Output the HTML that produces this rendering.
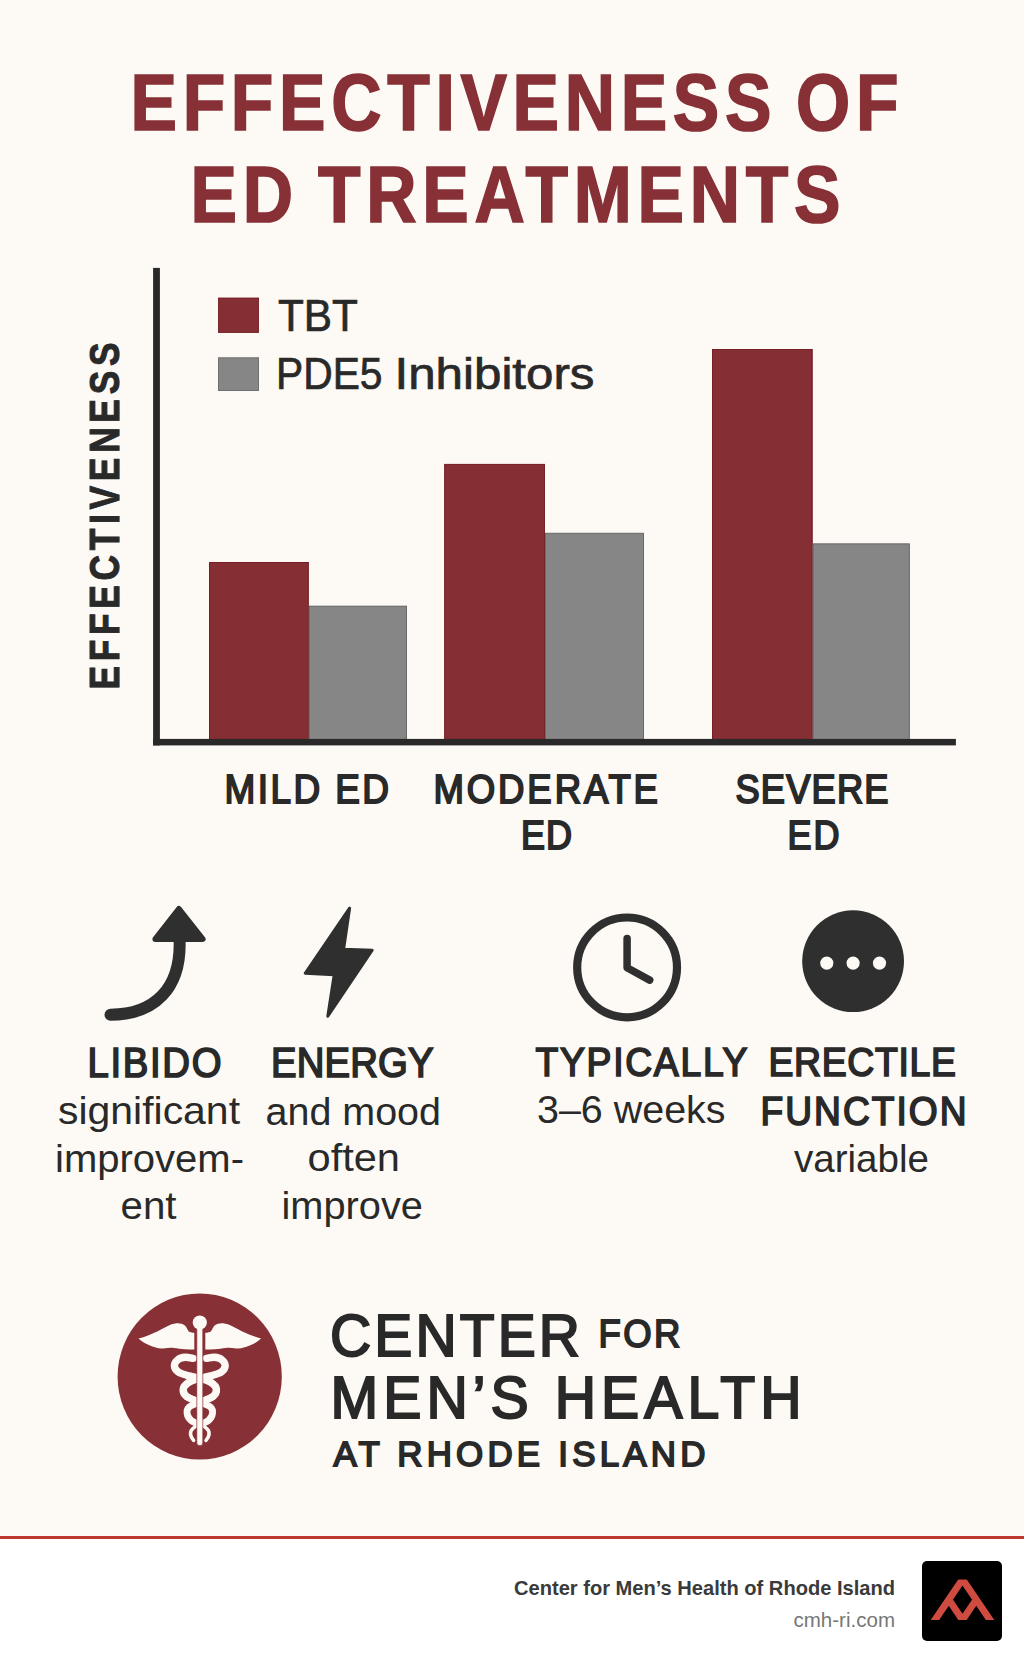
<!DOCTYPE html>
<html lang="en">
<head>
<meta charset="utf-8">
<title>Effectiveness of ED Treatments</title>
<style>
  html, body { margin: 0; padding: 0; background: #ffffff; }
  body { width: 1024px; height: 1666px; overflow: hidden; font-family: "Liberation Sans", sans-serif; }
  svg { display: block; }
  text { font-family: "Liberation Sans", sans-serif; }
</style>
</head>
<body>
<svg width="1024" height="1666" viewBox="0 0 1024 1666">
  <!-- backgrounds -->
  <rect x="0" y="0" width="1024" height="1536" fill="#fdfaf5"/>
  <rect x="0" y="1536" width="1024" height="3" fill="#c0392f"/>
  <rect x="0" y="1539" width="1024" height="127" fill="#ffffff"/>

  <!-- chart -->
  <g id="chart">
    <rect x="209.55" y="562.45" width="98.80" height="178.50" fill="#852e34" stroke="#6e1319" stroke-width="0.9"/>
    <rect x="309.25" y="606.15" width="97.30" height="134.80" fill="#868686" stroke="#5e5e5e" stroke-width="0.9"/>
    <rect x="444.65" y="464.35" width="99.80" height="276.60" fill="#852e34" stroke="#6e1319" stroke-width="0.9"/>
    <rect x="545.35" y="533.25" width="98.10" height="207.70" fill="#868686" stroke="#5e5e5e" stroke-width="0.9"/>
    <rect x="712.45" y="349.55" width="99.80" height="391.40" fill="#852e34" stroke="#6e1319" stroke-width="0.9"/>
    <rect x="813.15" y="543.85" width="96.20" height="197.10" fill="#868686" stroke="#5e5e5e" stroke-width="0.9"/>
    <!-- axes -->
    <rect x="153.1" y="267.9" width="6.8" height="477.5" fill="#292929"/>
    <rect x="153.1" y="738.9" width="802.8" height="6.5" fill="#292929"/>
    <!-- legend -->
    <rect x="218.4" y="298" width="40.2" height="34.5" fill="#852e34" stroke="#6e1319" stroke-width="0.8"/>
    <rect x="218.4" y="357.8" width="40.2" height="32.8" fill="#868686" stroke="#5e5e5e" stroke-width="0.8"/>
  </g>

  <!-- icons -->
  <g id="icons" fill="#2f2f2f">
    <!-- curved arrow -->
    <path d="M110.5 1014.7 C155 1014.7 181 988 179.6 941" fill="none" stroke="#2f2f2f" stroke-width="12" stroke-linecap="round"/>
    <path d="M178.9 909 L202.6 939 L155.4 939 Z" stroke="#2f2f2f" stroke-width="6" stroke-linejoin="round"/>
    <!-- bolt -->
    <path d="M349.6 908.2 L343.6 949.2 L372.2 950.2 L327.8 1016.2 L334.2 974.7 L305.2 973.3 Z" stroke="#2f2f2f" stroke-width="3" stroke-linejoin="round"/>
    <!-- clock -->
    <circle cx="627.1" cy="967.4" r="49.9" fill="none" stroke="#2f2f2f" stroke-width="8.2"/>
    <path d="M627.1 938.4 L627.1 967.8 L649.7 980.1" fill="none" stroke="#2f2f2f" stroke-width="7.5" stroke-linecap="round" stroke-linejoin="round"/>
    <!-- dots -->
    <circle cx="853.1" cy="961.2" r="50.9"/>
    <circle cx="826.8" cy="963.1" r="6.6" fill="#fdfaf5"/>
    <circle cx="853.1" cy="963.1" r="6.6" fill="#fdfaf5"/>
    <circle cx="879.5" cy="963.1" r="6.6" fill="#fdfaf5"/>
  </g>

  <!-- logo -->
  <g id="logo">
    <ellipse cx="199.7" cy="1376.5" rx="82.1" ry="83.1" fill="#873036"/>
    <g id="caduceus">
      <g fill="#fdfaf5" stroke="none">
        <path d="M194.3 1332.8 C191.5 1332.5 190 1332 188.8 1331.4 C187 1329 186.5 1327 184.7 1325.3 C183 1324 180.5 1323.2 177.9 1323.2 C175.5 1323.2 173 1323.8 171 1324.6 C166 1326.8 161.5 1329.3 157.3 1331.4 C151 1334.3 145 1336.8 138.5 1338.6 C142 1341.8 146 1344.2 150.5 1345.8 C154 1347.2 157.5 1348.3 161.4 1348.5 C165.5 1348.8 170 1347.6 173.8 1347.9 C177.5 1348.2 181 1349 184.7 1349.2 C188 1349.5 191 1349.5 194.3 1349.5 Z"/>
        <path d="M205.3 1332.8 C208.1 1332.5 209.6 1332.0 210.8 1331.4 C212.6 1329.0 213.1 1327.0 214.9 1325.3 C216.6 1324.0 219.1 1323.2 221.7 1323.2 C224.1 1323.2 226.6 1323.8 228.6 1324.6 C233.6 1326.8 238.1 1329.3 242.3 1331.4 C248.6 1334.3 254.6 1336.8 261.1 1338.6 C257.6 1341.8 253.6 1344.2 249.1 1345.8 C245.6 1347.2 242.1 1348.3 238.2 1348.5 C234.1 1348.8 229.6 1347.6 225.8 1347.9 C222.1 1348.2 218.6 1349.0 214.9 1349.2 C211.6 1349.5 208.6 1349.5 205.3 1349.5 Z"/>
      </g>
      <g fill="none" stroke="#fdfaf5" stroke-linecap="round" stroke-linejoin="round">
      <path d="M193.0 1358.3 C191.7 1358.1 187.6 1357.2 185.2 1357.3 C182.7 1357.5 180.1 1357.9 178.3 1359.3 C176.5 1360.7 174.4 1363.5 174.4 1365.6 C174.4 1367.7 175.9 1370.3 178.3 1372.0 C180.8 1373.7 185.5 1374.8 189.1 1375.9 C192.6 1376.9 196.2 1377.3 199.8 1378.3 C203.4 1379.4 207.8 1380.4 210.5 1382.2 C213.3 1384.0 216.1 1386.6 216.4 1389.1 C216.7 1391.5 215.3 1394.7 212.5 1396.9 C209.7 1399.1 201.9 1401.4 199.8 1402.2" stroke-width="7.4"/>
      <path d="M212.5 1396.9 C210.4 1397.8 203.7 1400.5 199.8 1402.2 C195.9 1404.0 191.2 1405.3 189.1 1407.1 C186.9 1409.0 186.8 1411.3 187.1 1413.5 C187.4 1415.7 188.9 1418.5 191.0 1420.3 C193.1 1422.1 198.3 1423.6 199.8 1424.2" stroke-width="6.8"/>
      <path d="M206.6 1358.3 C207.9 1358.1 212.0 1357.2 214.4 1357.3 C216.9 1357.5 219.5 1357.9 221.3 1359.3 C223.1 1360.7 225.2 1363.5 225.2 1365.6 C225.2 1367.7 223.7 1370.3 221.3 1372.0 C218.8 1373.7 214.1 1374.8 210.5 1375.9 C207.0 1376.9 203.4 1377.3 199.8 1378.3 C196.2 1379.4 191.8 1380.4 189.1 1382.2 C186.3 1384.0 183.5 1386.6 183.2 1389.1 C182.9 1391.5 184.3 1394.7 187.1 1396.9 C189.9 1399.1 197.7 1401.4 199.8 1402.2" stroke-width="7.4"/>
      <path d="M187.1 1396.9 C189.2 1397.8 195.9 1400.5 199.8 1402.2 C203.7 1404.0 208.4 1405.3 210.5 1407.1 C212.7 1409.0 212.8 1411.3 212.5 1413.5 C212.2 1415.7 210.7 1418.5 208.6 1420.3 C206.5 1422.1 201.3 1423.6 199.8 1424.2" stroke-width="6.8"/>
      <path d="M196 1422.6 C201 1424.6 206 1426.6 208.2 1430.2 C210 1433.4 208.6 1437.4 206 1440.4" stroke-width="3.6"/>
      <path d="M203.6 1422.6 C198.6 1424.6 193.6 1426.6 191.4 1430.2 C189.6 1433.4 191 1437.4 193.6 1440.4" stroke-width="3.6"/>
      </g>
      <rect x="196.8" y="1322" width="6" height="123.5" rx="2.6" fill="#fdfaf5" stroke="#852e34" stroke-width="0.7"/>
      <circle cx="199.8" cy="1322.6" r="7.1" fill="#fdfaf5"/>
    </g>
    </g>

  <!-- footer logo -->
  <g id="footer">
    <rect x="922" y="1561" width="80" height="80" rx="5" fill="#000000"/>
    <clipPath id="fl"><rect x="922" y="1579.4" width="80" height="40.5"/></clipPath>
    <g fill="none" stroke="#cf4b40" stroke-width="7" stroke-linejoin="miter" stroke-miterlimit="10" clip-path="url(#fl)">
      <path d="M931.6 1624.9 L962.5 1579.4 L993.4 1624.9"/>
      <path d="M948.1 1598.6 L962.5 1619.9 L976.9 1598.6"/>
    </g>
  </g>

  <!-- all text -->
  <g id="texts">
    <text transform="translate(130.50 129.85) scale(0.88 1)" font-size="79.10" font-weight="700" word-spacing="-6.82" fill="#873036" stroke="#873036" stroke-width="1.70" stroke-linejoin="miter" textLength="872.73" lengthAdjust="spacing">EFFECTIVENESS OF</text>
    <text transform="translate(190.50 221.85) scale(0.88 1)" font-size="79.10" font-weight="700" word-spacing="-6.82" fill="#873036" stroke="#873036" stroke-width="1.70" stroke-linejoin="miter" textLength="738.64" lengthAdjust="spacing">ED TREATMENTS</text>
    <text transform="translate(278.00 330.75)" font-size="45.00" fill="#292929" stroke="#292929" stroke-width="0.70" stroke-linejoin="miter" textLength="80.00" lengthAdjust="spacingAndGlyphs">TBT</text>
    <text y="388.85" font-size="44.00" fill="#292929" stroke="#292929" stroke-width="0.70" stroke-linejoin="miter"><tspan x="276.00" textLength="106.50" lengthAdjust="spacingAndGlyphs">PDE5</tspan> <tspan x="394.50" textLength="200.00" lengthAdjust="spacingAndGlyphs">Inhibitors</tspan></text>
    <text transform="translate(119.30 689.50) rotate(-90) scale(0.83 1)" font-size="42.60" font-weight="700" fill="#292929" stroke="#292929" stroke-width="1.00" stroke-linejoin="miter" textLength="418.07" lengthAdjust="spacing">EFFECTIVENESS</text>
    <text transform="translate(224.50 802.95) scale(0.9 1)" font-size="41.10" fill="#292929" stroke="#292929" stroke-width="1.90" stroke-linejoin="miter" textLength="182.78" lengthAdjust="spacing">MILD ED</text>
    <text transform="translate(433.50 802.65) scale(0.9 1)" font-size="40.60" fill="#292929" stroke="#292929" stroke-width="1.90" stroke-linejoin="miter" textLength="249.44" lengthAdjust="spacing">MODERATE</text>
    <text transform="translate(521.00 849.35) scale(0.9 1)" font-size="40.00" fill="#292929" stroke="#292929" stroke-width="1.90" stroke-linejoin="miter" textLength="56.67" lengthAdjust="spacing">ED</text>
    <text transform="translate(735.50 802.85) scale(0.9 1)" font-size="40.30" fill="#292929" stroke="#292929" stroke-width="1.90" stroke-linejoin="miter" textLength="170.00" lengthAdjust="spacing">SEVERE</text>
    <text transform="translate(787.50 849.25) scale(0.9 1)" font-size="40.00" fill="#292929" stroke="#292929" stroke-width="1.90" stroke-linejoin="miter" textLength="57.78" lengthAdjust="spacing">ED</text>
    <text transform="translate(87.50 1076.65) scale(0.92 1)" font-size="41.70" fill="#292929" stroke="#292929" stroke-width="1.70" stroke-linejoin="miter" textLength="145.65" lengthAdjust="spacing">LIBIDO</text>
    <text transform="translate(271.00 1076.65) scale(0.92 1)" font-size="41.70" fill="#292929" stroke="#292929" stroke-width="1.70" stroke-linejoin="miter" textLength="176.63" lengthAdjust="spacing">ENERGY</text>
    <text transform="translate(535.50 1076.35) scale(0.92 1)" font-size="40.60" fill="#292929" stroke="#292929" stroke-width="1.70" stroke-linejoin="miter" textLength="230.43" lengthAdjust="spacing">TYPICALLY</text>
    <text transform="translate(768.50 1076.35) scale(0.92 1)" font-size="40.70" fill="#292929" stroke="#292929" stroke-width="1.70" stroke-linejoin="miter" textLength="203.80" lengthAdjust="spacing">ERECTILE</text>
    <text transform="translate(760.50 1124.85) scale(0.92 1)" font-size="40.40" fill="#292929" stroke="#292929" stroke-width="1.70" stroke-linejoin="miter" textLength="223.91" lengthAdjust="spacing">FUNCTION</text>
    <text transform="translate(58.00 1124.10)" font-size="38.20" fill="#292929" textLength="182.00" lengthAdjust="spacingAndGlyphs">significant</text>
    <text transform="translate(55.00 1171.50)" font-size="38.20" fill="#292929" textLength="189.00" lengthAdjust="spacingAndGlyphs">improvem-</text>
    <text transform="translate(120.50 1218.80)" font-size="38.20" fill="#292929" textLength="56.00" lengthAdjust="spacingAndGlyphs">ent</text>
    <text transform="translate(265.50 1124.60)" font-size="39.40" fill="#292929" textLength="175.50" lengthAdjust="spacingAndGlyphs">and mood</text>
    <text transform="translate(307.50 1170.90)" font-size="39.40" fill="#292929" textLength="92.50" lengthAdjust="spacingAndGlyphs">often</text>
    <text transform="translate(281.50 1218.80)" font-size="39.40" fill="#292929" textLength="141.50" lengthAdjust="spacingAndGlyphs">improve</text>
    <text transform="translate(537.00 1123.10)" font-size="38.90" fill="#292929" textLength="188.50" lengthAdjust="spacingAndGlyphs">3–6 weeks</text>
    <text transform="translate(794.00 1171.90)" font-size="39.00" fill="#292929" textLength="135.00" lengthAdjust="spacingAndGlyphs">variable</text>
    <text transform="translate(330.00 1356.20) scale(0.96 1)" font-size="59.40" fill="#292929" stroke="#292929" stroke-width="2.00" stroke-linejoin="miter" textLength="260.42" lengthAdjust="spacing">CENTER</text>
    <text transform="translate(598.50 1347.40) scale(0.92 1)" font-size="39.70" fill="#292929" stroke="#292929" stroke-width="1.80" stroke-linejoin="miter" textLength="89.13" lengthAdjust="spacing">FOR</text>
    <text transform="translate(330.50 1418.20) scale(0.97 1)" font-size="59.00" fill="#292929" stroke="#292929" stroke-width="2.00" stroke-linejoin="miter" textLength="485.57" lengthAdjust="spacing">MEN’S HEALTH</text>
    <text transform="translate(333.50 1465.60) scale(0.98 1)" font-size="35.60" fill="#292929" stroke="#292929" stroke-width="1.80" stroke-linejoin="miter" textLength="379.59" lengthAdjust="spacing">AT RHODE ISLAND</text>
    <text transform="translate(514.00 1594.70)" font-size="20.50" font-weight="700" fill="#3a3a3a" textLength="381.00" lengthAdjust="spacingAndGlyphs">Center for Men’s Health of Rhode Island</text>
    <text transform="translate(793.50 1626.90)" font-size="20.00" fill="#777777" textLength="101.50" lengthAdjust="spacingAndGlyphs">cmh-ri.com</text>
  </g>
</svg>
</body>
</html>
